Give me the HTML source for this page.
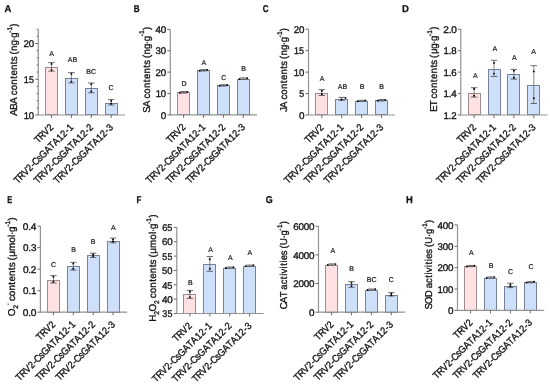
<!DOCTYPE html>
<html><head><meta charset="utf-8"><title>Figure</title>
<style>
html,body{margin:0;padding:0;background:#fff;}
svg{display:block;filter:blur(0.25px);}
text{font-family:"Liberation Sans",Arial,sans-serif;fill:#151515;stroke-linejoin:round;text-rendering:geometricPrecision;}
.pl{font-weight:bold;fill:#000;stroke:#000;stroke-width:0.25px;}
.tl{stroke:#151515;stroke-width:0.34px;}
.xl{stroke:#151515;stroke-width:0.36px;}
.yl{stroke:#151515;stroke-width:0.34px;}
.lt{font-size:7px;text-anchor:middle;fill:#1a1a1a;stroke:#1a1a1a;stroke-width:0.22px;}
.ax{stroke:#939393;stroke-width:1.2;fill:none;}
.tk{stroke:#6a6a6a;stroke-width:1;fill:none;}
.eb{stroke:#5a5a5a;stroke-width:0.9;fill:none;}
.ebv{stroke:#555;stroke-width:0.7;fill:none;}
.dot{fill:#000;}
</style></head>
<body>
<svg width="550" height="386" viewBox="0 0 550 386">
<rect width="550" height="386" fill="#fff"/>
<g class="pl"><text xml:space="preserve" transform="translate(4.78 11.9) scale(0.9544 1)" font-size="9.99" x="-0.23" y="0">A</text></g>
<rect x="45.5" y="67.5" width="12" height="47" fill="#fee2e3" stroke="#9d8b8e" stroke-width="1"/>
<rect x="65.5" y="78.5" width="12" height="36" fill="#cddff9" stroke="#78819a" stroke-width="1"/>
<rect x="85.5" y="88.5" width="12" height="26" fill="#cddff9" stroke="#78819a" stroke-width="1"/>
<rect x="105.5" y="103.5" width="12" height="11" fill="#cddff9" stroke="#78819a" stroke-width="1"/>
<path d="M51.5 62.6V71.2" class="ebv"/>
<path d="M48.3 62.6H54.7M48.3 71.2H54.7" class="eb"/>
<circle cx="51.5" cy="63.9" r="0.95" class="dot"/>
<circle cx="51.5" cy="69.9" r="0.95" class="dot"/>
<path d="M71.4 72.6V82.9" class="ebv"/>
<path d="M68.2 72.6H74.6M68.2 82.9H74.6" class="eb"/>
<circle cx="71.4" cy="73.9" r="0.95" class="dot"/>
<circle cx="71.4" cy="81.6" r="0.95" class="dot"/>
<path d="M91.3 83V92.8" class="ebv"/>
<path d="M88.1 83H94.5M88.1 92.8H94.5" class="eb"/>
<circle cx="91.3" cy="84.3" r="0.95" class="dot"/>
<circle cx="91.3" cy="91.5" r="0.95" class="dot"/>
<path d="M111.2 99.6V105" class="ebv"/>
<path d="M108 99.6H114.4M108 105H114.4" class="eb"/>
<circle cx="111.2" cy="100.9" r="0.95" class="dot"/>
<circle cx="111.2" cy="103.7" r="0.95" class="dot"/>
<path d="M38.3 29.2V115H125" class="ax"/>
<path d="M35.3 115H38.3M35.3 79.25H38.3M35.3 43.5H38.3M36.7 107.85H38.3M36.7 100.7H38.3M36.7 93.55H38.3M36.7 86.4H38.3M36.7 72.1H38.3M36.7 64.95H38.3M36.7 57.8H38.3M36.7 50.65H38.3M36.7 36.35H38.3M36.7 29.2H38.3M51.5 115V118M71.4 115V118M91.3 115V118M111.2 115V118" class="tk"/>
<g class="tl"><text xml:space="preserve" transform="translate(34.1 118.7) scale(0.9796 1)" font-size="9.7" x="-10.68 -5.39" y="0">10</text></g>
<g class="tl"><text xml:space="preserve" transform="translate(34.1 82.95) scale(0.9213 1)" font-size="9.7" x="-11.18 -5.63" y="0">15</text></g>
<g class="tl"><text xml:space="preserve" transform="translate(34.1 47.2) scale(1.0044 1)" font-size="9.7" x="-10.56 -5.32" y="0">20</text></g>
<text x="51.65" y="55.7" class="lt">A</text>
<text x="72.5" y="62.2" class="lt">AB</text>
<text x="91.1" y="74.1" class="lt">BC</text>
<text x="110.95" y="89.5" class="lt">C</text>
<g class="xl"><text xml:space="preserve" transform="translate(54.2 127.8) rotate(-45) scale(0.897 1)" font-size="9.98" x="-25.24 -19.49 -12.76 -5.78" y="0">TRV2</text></g>
<g class="xl"><text xml:space="preserve" transform="translate(74.1 127.8) rotate(-45) scale(0.9047 1)" font-size="9.98" x="-88.13 -82.43 -75.75 -68.83 -62.92 -59.89 -53.28 -48.63 -40.96 -34.38 -28.35 -21.27 -15.37 -9.46 -5.66" y="0">TRV2-CsGATA12-1</text></g>
<g class="xl"><text xml:space="preserve" transform="translate(94 127.8) rotate(-45) scale(0.9079 1)" font-size="9.98" x="-87.82 -82.15 -75.49 -68.59 -62.7 -59.68 -53.1 -48.47 -40.82 -34.26 -28.26 -21.21 -15.33 -9.44 -5.75" y="0">TRV2-CsGATA12-2</text></g>
<g class="xl"><text xml:space="preserve" transform="translate(113.9 127.8) rotate(-45) scale(0.9061 1)" font-size="9.98" x="-87.99 -82.3 -75.63 -68.72 -62.82 -59.79 -53.2 -48.56 -40.9 -34.32 -28.31 -21.24 -15.35 -9.45 -5.69" y="0">TRV2-CsGATA12-3</text></g>
<g class="yl"><text xml:space="preserve" transform="translate(17.3 115.6) rotate(-90) scale(0.9657 1)" font-size="9.98" x="-0.12 6.1 12.32 18.85 21.2 26.18 32.05 38.13 41.41 47.1 53.17 56.17 60.79 63.18 66.83 72.5 77.43 80.51" y="0">ABA contents (ng·g</text><text xml:space="preserve" transform="translate(17.3 115.6) rotate(-90) scale(0.9657 1)" font-size="6.81" x="85.73 88.11" y="-5.4">-1</text><text xml:space="preserve" transform="translate(17.3 115.6) rotate(-90) scale(0.9657 1)" font-size="9.98" x="92.02" y="0">)</text></g>
<g class="pl"><text xml:space="preserve" transform="translate(133.58 11.5) scale(0.8172 1)" font-size="9.99" x="0.09" y="0">B</text></g>
<rect x="177.5" y="92.5" width="12" height="22" fill="#fee2e3" stroke="#9d8b8e" stroke-width="1"/>
<rect x="197.5" y="70.5" width="12" height="44" fill="#cddff9" stroke="#78819a" stroke-width="1"/>
<rect x="217.5" y="85.5" width="12" height="29" fill="#cddff9" stroke="#78819a" stroke-width="1"/>
<rect x="237.5" y="79.5" width="12" height="35" fill="#cddff9" stroke="#78819a" stroke-width="1"/>
<path d="M183.6 91.5V93.1" class="ebv"/>
<path d="M180.4 91.5H186.8M180.4 93.1H186.8" class="eb"/>
<circle cx="179.8" cy="92.7" r="0.95" class="dot"/>
<circle cx="187.4" cy="91.9" r="0.95" class="dot"/>
<path d="M203.5 69.6V71" class="ebv"/>
<path d="M200.3 69.6H206.7M200.3 71H206.7" class="eb"/>
<circle cx="199.7" cy="70.7" r="0.95" class="dot"/>
<circle cx="207.3" cy="69.9" r="0.95" class="dot"/>
<path d="M223.4 84.7V86.1" class="ebv"/>
<path d="M220.2 84.7H226.6M220.2 86.1H226.6" class="eb"/>
<circle cx="219.6" cy="85.8" r="0.95" class="dot"/>
<circle cx="227.2" cy="85" r="0.95" class="dot"/>
<path d="M243.3 77.9V79.3" class="ebv"/>
<path d="M240.1 77.9H246.5M240.1 79.3H246.5" class="eb"/>
<circle cx="239.5" cy="79" r="0.95" class="dot"/>
<circle cx="247.1" cy="78.2" r="0.95" class="dot"/>
<path d="M170.3 29.4V114.9H257" class="ax"/>
<path d="M167.3 114.9H170.3M167.3 93.53H170.3M167.3 72.15H170.3M167.3 50.78H170.3M167.3 29.4H170.3M183.6 114.9V117.9M203.5 114.9V117.9M223.4 114.9V117.9M243.3 114.9V117.9" class="tk"/>
<g class="tl"><text xml:space="preserve" transform="translate(166.1 118.6) scale(1.0208 1)" font-size="9.7" x="-5.28" y="0">0</text></g>
<g class="tl"><text xml:space="preserve" transform="translate(166.1 97.23) scale(0.9796 1)" font-size="9.7" x="-10.68 -5.39" y="0">10</text></g>
<g class="tl"><text xml:space="preserve" transform="translate(166.1 75.85) scale(1.0044 1)" font-size="9.7" x="-10.56 -5.32" y="0">20</text></g>
<g class="tl"><text xml:space="preserve" transform="translate(166.1 54.48) scale(0.9882 1)" font-size="9.7" x="-10.63 -5.36" y="0">30</text></g>
<g class="tl"><text xml:space="preserve" transform="translate(166.1 33.1) scale(1.0136 1)" font-size="9.7" x="-10.46 -5.3" y="0">40</text></g>
<text x="184.1" y="86.2" class="lt">D</text>
<text x="203.85" y="64.9" class="lt">A</text>
<text x="223.85" y="80" class="lt">C</text>
<text x="243.6" y="71.4" class="lt">B</text>
<g class="xl"><text xml:space="preserve" transform="translate(186.3 127.7) rotate(-45) scale(0.897 1)" font-size="9.98" x="-25.24 -19.49 -12.76 -5.78" y="0">TRV2</text></g>
<g class="xl"><text xml:space="preserve" transform="translate(206.2 127.7) rotate(-45) scale(0.9047 1)" font-size="9.98" x="-88.13 -82.43 -75.75 -68.83 -62.92 -59.89 -53.28 -48.63 -40.96 -34.38 -28.35 -21.27 -15.37 -9.46 -5.66" y="0">TRV2-CsGATA12-1</text></g>
<g class="xl"><text xml:space="preserve" transform="translate(226.1 127.7) rotate(-45) scale(0.9079 1)" font-size="9.98" x="-87.82 -82.15 -75.49 -68.59 -62.7 -59.68 -53.1 -48.47 -40.82 -34.26 -28.26 -21.21 -15.33 -9.44 -5.75" y="0">TRV2-CsGATA12-2</text></g>
<g class="xl"><text xml:space="preserve" transform="translate(246 127.7) rotate(-45) scale(0.9061 1)" font-size="9.98" x="-87.99 -82.3 -75.63 -68.72 -62.82 -59.79 -53.2 -48.56 -40.9 -34.32 -28.31 -21.24 -15.35 -9.45 -5.69" y="0">TRV2-CsGATA12-3</text></g>
<g class="yl"><text xml:space="preserve" transform="translate(149.8 111.9) rotate(-90) scale(0.9584 1)" font-size="9.98" x="-0.81 5.03 11.59 13.98 19 24.91 31.03 34.34 40.07 46.19 49.22 53.85 56.27 59.95 65.67 70.63 73.74" y="0">SA contents (ng·g</text><text xml:space="preserve" transform="translate(149.8 111.9) rotate(-90) scale(0.9584 1)" font-size="6.81" x="78.99 81.39" y="-5.4">-1</text><text xml:space="preserve" transform="translate(149.8 111.9) rotate(-90) scale(0.9584 1)" font-size="9.98" x="85.33" y="0">)</text></g>
<g class="pl"><text xml:space="preserve" transform="translate(262.78 11.9) scale(0.809 1)" font-size="9.99" x="-0.14" y="0">C</text></g>
<rect x="315.5" y="93.5" width="12" height="21" fill="#fee2e3" stroke="#9d8b8e" stroke-width="1"/>
<rect x="335.5" y="99.5" width="12" height="15" fill="#cddff9" stroke="#78819a" stroke-width="1"/>
<rect x="355.5" y="101.5" width="12" height="13" fill="#cddff9" stroke="#78819a" stroke-width="1"/>
<rect x="375.5" y="100.5" width="12" height="14" fill="#cddff9" stroke="#78819a" stroke-width="1"/>
<path d="M321.8 89.6V95.5" class="ebv"/>
<path d="M318.6 89.6H325M318.6 95.5H325" class="eb"/>
<circle cx="321.8" cy="90.9" r="0.95" class="dot"/>
<circle cx="321.8" cy="94.2" r="0.95" class="dot"/>
<path d="M341.7 97.4V100.3" class="ebv"/>
<path d="M338.5 97.4H344.9M338.5 100.3H344.9" class="eb"/>
<circle cx="341.5" cy="99.5" r="0.95" class="dot"/>
<circle cx="345.5" cy="97.9" r="0.95" class="dot"/>
<path d="M361.6 100.3V101.3" class="ebv"/>
<path d="M358.4 100.3H364.8M358.4 101.3H364.8" class="eb"/>
<circle cx="357.8" cy="101.2" r="0.95" class="dot"/>
<circle cx="365.4" cy="100.4" r="0.95" class="dot"/>
<path d="M381.5 99.5V101" class="ebv"/>
<path d="M378.3 99.5H384.7M378.3 101H384.7" class="eb"/>
<circle cx="377.7" cy="100.7" r="0.95" class="dot"/>
<circle cx="385.3" cy="99.9" r="0.95" class="dot"/>
<path d="M308.5 29.2V115H395.2" class="ax"/>
<path d="M305.5 115H308.5M305.5 93.55H308.5M305.5 72.1H308.5M305.5 50.65H308.5M305.5 29.2H308.5M321.8 115V118M341.7 115V118M361.6 115V118M381.5 115V118" class="tk"/>
<g class="tl"><text xml:space="preserve" transform="translate(304.3 118.7) scale(1.0208 1)" font-size="9.7" x="-5.28" y="0">0</text></g>
<g class="tl"><text xml:space="preserve" transform="translate(304.3 97.25) scale(0.91 1)" font-size="9.7" x="-5.66" y="0">5</text></g>
<g class="tl"><text xml:space="preserve" transform="translate(304.3 75.8) scale(0.9796 1)" font-size="9.7" x="-10.68 -5.39" y="0">10</text></g>
<g class="tl"><text xml:space="preserve" transform="translate(304.3 54.35) scale(0.9213 1)" font-size="9.7" x="-11.18 -5.63" y="0">15</text></g>
<g class="tl"><text xml:space="preserve" transform="translate(304.3 32.9) scale(1.0044 1)" font-size="9.7" x="-10.56 -5.32" y="0">20</text></g>
<text x="322.15" y="80.9" class="lt">A</text>
<text x="342.5" y="88.6" class="lt">AB</text>
<text x="362" y="88.8" class="lt">B</text>
<text x="381.7" y="88.8" class="lt">B</text>
<g class="xl"><text xml:space="preserve" transform="translate(324.5 127.8) rotate(-45) scale(0.897 1)" font-size="9.98" x="-25.24 -19.49 -12.76 -5.78" y="0">TRV2</text></g>
<g class="xl"><text xml:space="preserve" transform="translate(344.4 127.8) rotate(-45) scale(0.9047 1)" font-size="9.98" x="-88.13 -82.43 -75.75 -68.83 -62.92 -59.89 -53.28 -48.63 -40.96 -34.38 -28.35 -21.27 -15.37 -9.46 -5.66" y="0">TRV2-CsGATA12-1</text></g>
<g class="xl"><text xml:space="preserve" transform="translate(364.3 127.8) rotate(-45) scale(0.9079 1)" font-size="9.98" x="-87.82 -82.15 -75.49 -68.59 -62.7 -59.68 -53.1 -48.47 -40.82 -34.26 -28.26 -21.21 -15.33 -9.44 -5.75" y="0">TRV2-CsGATA12-2</text></g>
<g class="xl"><text xml:space="preserve" transform="translate(384.2 127.8) rotate(-45) scale(0.9061 1)" font-size="9.98" x="-87.99 -82.3 -75.63 -68.72 -62.82 -59.79 -53.2 -48.56 -40.9 -34.32 -28.31 -21.24 -15.35 -9.45 -5.69" y="0">TRV2-CsGATA12-3</text></g>
<g class="yl"><text xml:space="preserve" transform="translate(287.4 111.4) rotate(-90) scale(0.9579 1)" font-size="9.98" x="-0.64 3.47 10.03 12.42 17.44 23.36 29.47 32.79 38.53 44.64 47.68 52.31 54.73 58.42 64.14 69.1 72.21" y="0">JA contents (ng·g</text><text xml:space="preserve" transform="translate(287.4 111.4) rotate(-90) scale(0.9579 1)" font-size="6.81" x="77.46 79.87" y="-5.4">-1</text><text xml:space="preserve" transform="translate(287.4 111.4) rotate(-90) scale(0.9579 1)" font-size="9.98" x="83.81" y="0">)</text></g>
<g class="pl"><text xml:space="preserve" transform="translate(402 11.7) scale(0.9529 1)" font-size="9.99" x="-0.04" y="0">D</text></g>
<rect x="468.5" y="93.5" width="12" height="21" fill="#fee2e3" stroke="#9d8b8e" stroke-width="1"/>
<rect x="488.5" y="69.5" width="12" height="45" fill="#cddff9" stroke="#78819a" stroke-width="1"/>
<rect x="507.5" y="74.5" width="12" height="40" fill="#cddff9" stroke="#78819a" stroke-width="1"/>
<rect x="527.5" y="85.5" width="12" height="29" fill="#cddff9" stroke="#78819a" stroke-width="1"/>
<path d="M474.1 87.7V97.1" class="ebv"/>
<path d="M470.9 87.7H477.3M470.9 97.1H477.3" class="eb"/>
<circle cx="474.1" cy="89" r="0.95" class="dot"/>
<circle cx="474.1" cy="95.8" r="0.95" class="dot"/>
<path d="M494 60.3V76.4" class="ebv"/>
<path d="M490.8 60.3H497.2M490.8 76.4H497.2" class="eb"/>
<circle cx="494" cy="62.9" r="0.95" class="dot"/>
<circle cx="494" cy="73.6" r="0.95" class="dot"/>
<path d="M513.9 69.4V79.1" class="ebv"/>
<path d="M510.7 69.4H517.1M510.7 79.1H517.1" class="eb"/>
<circle cx="513.9" cy="70.7" r="0.95" class="dot"/>
<circle cx="513.9" cy="77.8" r="0.95" class="dot"/>
<path d="M533.8 65.7V103.5" class="ebv"/>
<path d="M530.6 65.7H537M530.6 103.5H537" class="eb"/>
<circle cx="533.8" cy="71.4" r="0.95" class="dot"/>
<circle cx="533.8" cy="98.2" r="0.95" class="dot"/>
<path d="M460.8 29.3V115H547.5" class="ax"/>
<path d="M457.8 115H460.8M457.8 93.58H460.8M457.8 72.15H460.8M457.8 50.72H460.8M457.8 29.3H460.8M474.1 115V118M494 115V118M513.9 115V118M533.8 115V118" class="tk"/>
<g class="tl"><text xml:space="preserve" transform="translate(456.6 118.7) scale(0.9998 1)" font-size="9.7" x="-13.15 -7.94 -5.32" y="0">1.2</text></g>
<g class="tl"><text xml:space="preserve" transform="translate(456.6 97.28) scale(1.0088 1)" font-size="9.7" x="-13.06 -7.88 -5.28" y="0">1.4</text></g>
<g class="tl"><text xml:space="preserve" transform="translate(456.6 75.85) scale(1.0023 1)" font-size="9.7" x="-13.12 -7.92 -5.31" y="0">1.6</text></g>
<g class="tl"><text xml:space="preserve" transform="translate(456.6 54.42) scale(0.9939 1)" font-size="9.7" x="-13.21 -7.98 -5.35" y="0">1.8</text></g>
<g class="tl"><text xml:space="preserve" transform="translate(456.6 33) scale(1.0372 1)" font-size="9.7" x="-12.84 -7.7 -5.24" y="0">2.0</text></g>
<text x="475.45" y="78.4" class="lt">A</text>
<text x="494.95" y="50.8" class="lt">A</text>
<text x="514.35" y="59.8" class="lt">A</text>
<text x="533.55" y="54.4" class="lt">A</text>
<g class="xl"><text xml:space="preserve" transform="translate(476.8 127.8) rotate(-45) scale(0.897 1)" font-size="9.98" x="-25.24 -19.49 -12.76 -5.78" y="0">TRV2</text></g>
<g class="xl"><text xml:space="preserve" transform="translate(496.7 127.8) rotate(-45) scale(0.9047 1)" font-size="9.98" x="-88.13 -82.43 -75.75 -68.83 -62.92 -59.89 -53.28 -48.63 -40.96 -34.38 -28.35 -21.27 -15.37 -9.46 -5.66" y="0">TRV2-CsGATA12-1</text></g>
<g class="xl"><text xml:space="preserve" transform="translate(516.6 127.8) rotate(-45) scale(0.9079 1)" font-size="9.98" x="-87.82 -82.15 -75.49 -68.59 -62.7 -59.68 -53.1 -48.47 -40.82 -34.26 -28.26 -21.21 -15.33 -9.44 -5.75" y="0">TRV2-CsGATA12-2</text></g>
<g class="xl"><text xml:space="preserve" transform="translate(536.5 127.8) rotate(-45) scale(0.9061 1)" font-size="9.98" x="-87.99 -82.3 -75.63 -68.72 -62.82 -59.79 -53.2 -48.56 -40.9 -34.32 -28.31 -21.24 -15.35 -9.45 -5.69" y="0">TRV2-CsGATA12-3</text></g>
<g class="yl"><text xml:space="preserve" transform="translate(437.2 111.2) rotate(-90) scale(0.9681 1)" font-size="9.98" x="-0.67 5.04 10.78 13.12 18.09 23.95 30.01 33.28 38.95 45.02 48.01 52.62 55 59 64.56 69.49 72.56" y="0">ET contents (μg·g</text><text xml:space="preserve" transform="translate(437.2 111.2) rotate(-90) scale(0.9681 1)" font-size="6.81" x="77.77 80.13" y="-5.4">-1</text><text xml:space="preserve" transform="translate(437.2 111.2) rotate(-90) scale(0.9681 1)" font-size="9.98" x="84.04" y="0">)</text></g>
<g class="pl"><text xml:space="preserve" transform="translate(7.19 203) scale(0.7489 1)" font-size="9.99" x="0.15" y="0">E</text></g>
<rect x="47.5" y="280.5" width="12" height="32" fill="#fee2e3" stroke="#9d8b8e" stroke-width="1"/>
<rect x="67.5" y="266.5" width="12" height="46" fill="#cddff9" stroke="#78819a" stroke-width="1"/>
<rect x="87.5" y="255.5" width="12" height="57" fill="#cddff9" stroke="#78819a" stroke-width="1"/>
<rect x="107.5" y="241.5" width="12" height="71" fill="#cddff9" stroke="#78819a" stroke-width="1"/>
<path d="M53.4 275.6V283" class="ebv"/>
<path d="M50.2 275.6H56.6M50.2 283H56.6" class="eb"/>
<circle cx="53.4" cy="276.9" r="0.95" class="dot"/>
<circle cx="53.4" cy="281.7" r="0.95" class="dot"/>
<path d="M73.3 262.3V270.1" class="ebv"/>
<path d="M70.1 262.3H76.5M70.1 270.1H76.5" class="eb"/>
<circle cx="73.3" cy="263.6" r="0.95" class="dot"/>
<circle cx="73.3" cy="268.8" r="0.95" class="dot"/>
<path d="M93.2 253.2V257.5" class="ebv"/>
<path d="M90 253.2H96.4M90 257.5H96.4" class="eb"/>
<circle cx="93.2" cy="254.5" r="0.95" class="dot"/>
<circle cx="93.2" cy="256.2" r="0.95" class="dot"/>
<path d="M113.1 238.1V242.8" class="ebv"/>
<path d="M109.9 238.1H116.3M109.9 242.8H116.3" class="eb"/>
<circle cx="113.1" cy="239.4" r="0.95" class="dot"/>
<circle cx="113.1" cy="241.5" r="0.95" class="dot"/>
<path d="M40.4 226.1V312.2H127.1" class="ax"/>
<path d="M37.4 312.2H40.4M37.4 290.68H40.4M37.4 269.15H40.4M37.4 247.62H40.4M37.4 226.1H40.4M53.4 312.2V315.2M73.3 312.2V315.2M93.2 312.2V315.2M113.1 312.2V315.2" class="tk"/>
<g class="tl"><text xml:space="preserve" transform="translate(36.2 315.9) scale(1.0514 1)" font-size="9.7" x="-12.71 -7.61 -5.2" y="0">0.0</text></g>
<g class="tl"><text xml:space="preserve" transform="translate(36.2 294.38) scale(1.0155 1)" font-size="9.7" x="-13.07 -7.84 -5.21" y="0">0.1</text></g>
<g class="tl"><text xml:space="preserve" transform="translate(36.2 272.85) scale(1.0372 1)" font-size="9.7" x="-12.85 -7.7 -5.23" y="0">0.2</text></g>
<g class="tl"><text xml:space="preserve" transform="translate(36.2 251.32) scale(1.0218 1)" font-size="9.7" x="-13 -7.8 -5.21" y="0">0.3</text></g>
<g class="tl"><text xml:space="preserve" transform="translate(36.2 229.8) scale(1.0441 1)" font-size="9.7" x="-12.78 -7.66 -5.19" y="0">0.4</text></g>
<text x="53.65" y="267.3" class="lt">C</text>
<text x="73.55" y="252.2" class="lt">B</text>
<text x="93" y="244" class="lt">B</text>
<text x="113.45" y="229.8" class="lt">A</text>
<g class="xl"><text xml:space="preserve" transform="translate(56.1 325) rotate(-45) scale(0.897 1)" font-size="9.98" x="-25.24 -19.49 -12.76 -5.78" y="0">TRV2</text></g>
<g class="xl"><text xml:space="preserve" transform="translate(76 325) rotate(-45) scale(0.9047 1)" font-size="9.98" x="-88.13 -82.43 -75.75 -68.83 -62.92 -59.89 -53.28 -48.63 -40.96 -34.38 -28.35 -21.27 -15.37 -9.46 -5.66" y="0">TRV2-CsGATA12-1</text></g>
<g class="xl"><text xml:space="preserve" transform="translate(95.9 325) rotate(-45) scale(0.9079 1)" font-size="9.98" x="-87.82 -82.15 -75.49 -68.59 -62.7 -59.68 -53.1 -48.47 -40.82 -34.26 -28.26 -21.21 -15.33 -9.44 -5.75" y="0">TRV2-CsGATA12-2</text></g>
<g class="xl"><text xml:space="preserve" transform="translate(115.8 325) rotate(-45) scale(0.9061 1)" font-size="9.98" x="-87.99 -82.3 -75.63 -68.72 -62.82 -59.79 -53.2 -48.56 -40.9 -34.32 -28.31 -21.24 -15.35 -9.45 -5.69" y="0">TRV2-CsGATA12-3</text></g>
<g class="yl"><text xml:space="preserve" transform="translate(15.4 315.9) rotate(-90) scale(1.001 1)" font-size="9.98" x="-0.34" y="0">O</text><text xml:space="preserve" transform="translate(15.4 315.9) rotate(-90) scale(1.001 1)" font-size="6.81" x="7.04" y="2.3">2</text><text xml:space="preserve" transform="translate(15.4 315.9) rotate(-90) scale(1.001 1)" font-size="6.81" x="10.56" y="-5.4">·</text><text xml:space="preserve" transform="translate(15.4 315.9) rotate(-90) scale(1.001 1)" font-size="9.98" x="12.61 14.79 19.59 25.25 31.16 34.28 39.77 45.68 48.54 53.08 55.31 59.15 64.77 73.2 78.91 80.93 83.87" y="0"> contents (μmol·g</text><text xml:space="preserve" transform="translate(15.4 315.9) rotate(-90) scale(1.001 1)" font-size="6.81" x="88.96 91.22" y="-5.4">-1</text><text xml:space="preserve" transform="translate(15.4 315.9) rotate(-90) scale(1.001 1)" font-size="9.98" x="95.02" y="0">)</text></g>
<g class="pl"><text xml:space="preserve" transform="translate(136.44 202.6) scale(0.7975 1)" font-size="9.99" x="0.04" y="0">F</text></g>
<rect x="183.5" y="294.5" width="12" height="19" fill="#fee2e3" stroke="#9d8b8e" stroke-width="1"/>
<rect x="203.5" y="264.5" width="12" height="49" fill="#cddff9" stroke="#78819a" stroke-width="1"/>
<rect x="223.5" y="268.5" width="12" height="45" fill="#cddff9" stroke="#78819a" stroke-width="1"/>
<rect x="243.5" y="266.5" width="12" height="47" fill="#cddff9" stroke="#78819a" stroke-width="1"/>
<path d="M189.9 290.4V298.4" class="ebv"/>
<path d="M186.7 290.4H193.1M186.7 298.4H193.1" class="eb"/>
<circle cx="189.9" cy="291.7" r="0.95" class="dot"/>
<circle cx="189.9" cy="297.1" r="0.95" class="dot"/>
<path d="M209.8 256.6V271.3" class="ebv"/>
<path d="M206.6 256.6H213M206.6 271.3H213" class="eb"/>
<circle cx="209.8" cy="259.2" r="0.95" class="dot"/>
<circle cx="209.8" cy="268.8" r="0.95" class="dot"/>
<path d="M229.7 267V268.2" class="ebv"/>
<path d="M226.5 267H232.9M226.5 268.2H232.9" class="eb"/>
<circle cx="225.9" cy="268" r="0.95" class="dot"/>
<circle cx="233.5" cy="267.2" r="0.95" class="dot"/>
<path d="M249.6 265.1V266.3" class="ebv"/>
<path d="M246.4 265.1H252.8M246.4 266.3H252.8" class="eb"/>
<circle cx="245.8" cy="266.1" r="0.95" class="dot"/>
<circle cx="253.4" cy="265.3" r="0.95" class="dot"/>
<path d="M176.8 227.4V313.5H263.5" class="ax"/>
<path d="M173.8 313.5H176.8M173.8 299.15H176.8M173.8 284.8H176.8M173.8 270.45H176.8M173.8 256.1H176.8M173.8 241.75H176.8M173.8 227.4H176.8M189.9 313.5V316.5M209.8 313.5V316.5M229.7 313.5V316.5M249.6 313.5V316.5" class="tk"/>
<g class="tl"><text xml:space="preserve" transform="translate(172.6 317.2) scale(0.9326 1)" font-size="9.7" x="-11.1 -5.59" y="0">35</text></g>
<g class="tl"><text xml:space="preserve" transform="translate(172.6 302.85) scale(1.0136 1)" font-size="9.7" x="-10.46 -5.3" y="0">40</text></g>
<g class="tl"><text xml:space="preserve" transform="translate(172.6 288.5) scale(0.9599 1)" font-size="9.7" x="-10.9 -5.51" y="0">45</text></g>
<g class="tl"><text xml:space="preserve" transform="translate(172.6 274.15) scale(0.9656 1)" font-size="9.7" x="-10.95 -5.43" y="0">50</text></g>
<g class="tl"><text xml:space="preserve" transform="translate(172.6 259.8) scale(0.91 1)" font-size="9.7" x="-11.45 -5.66" y="0">55</text></g>
<g class="tl"><text xml:space="preserve" transform="translate(172.6 245.45) scale(1.0071 1)" font-size="9.7" x="-10.53 -5.31" y="0">60</text></g>
<g class="tl"><text xml:space="preserve" transform="translate(172.6 231.1) scale(0.9509 1)" font-size="9.7" x="-10.99 -5.53" y="0">65</text></g>
<text x="190.25" y="284.6" class="lt">B</text>
<text x="210.55" y="251.8" class="lt">A</text>
<text x="230.35" y="259.7" class="lt">A</text>
<text x="249.95" y="255" class="lt">A</text>
<g class="xl"><text xml:space="preserve" transform="translate(192.6 326.3) rotate(-45) scale(0.897 1)" font-size="9.98" x="-25.24 -19.49 -12.76 -5.78" y="0">TRV2</text></g>
<g class="xl"><text xml:space="preserve" transform="translate(212.5 326.3) rotate(-45) scale(0.9047 1)" font-size="9.98" x="-88.13 -82.43 -75.75 -68.83 -62.92 -59.89 -53.28 -48.63 -40.96 -34.38 -28.35 -21.27 -15.37 -9.46 -5.66" y="0">TRV2-CsGATA12-1</text></g>
<g class="xl"><text xml:space="preserve" transform="translate(232.4 326.3) rotate(-45) scale(0.9079 1)" font-size="9.98" x="-87.82 -82.15 -75.49 -68.59 -62.7 -59.68 -53.1 -48.47 -40.82 -34.26 -28.26 -21.21 -15.33 -9.44 -5.75" y="0">TRV2-CsGATA12-2</text></g>
<g class="xl"><text xml:space="preserve" transform="translate(252.3 326.3) rotate(-45) scale(0.9061 1)" font-size="9.98" x="-87.99 -82.3 -75.63 -68.72 -62.82 -59.79 -53.2 -48.56 -40.9 -34.32 -28.31 -21.24 -15.35 -9.45 -5.69" y="0">TRV2-CsGATA12-3</text></g>
<g class="yl"><text xml:space="preserve" transform="translate(156.4 321.5) rotate(-90) scale(0.9912 1)" font-size="9.98" x="-0.24" y="0">H</text><text xml:space="preserve" transform="translate(156.4 321.5) rotate(-90) scale(0.9912 1)" font-size="6.81" x="6.71" y="2.3">2</text><text xml:space="preserve" transform="translate(156.4 321.5) rotate(-90) scale(0.9912 1)" font-size="9.98" x="10.15" y="0">O</text><text xml:space="preserve" transform="translate(156.4 321.5) rotate(-90) scale(0.9912 1)" font-size="6.81" x="17.59" y="2.3">2</text><text xml:space="preserve" transform="translate(156.4 321.5) rotate(-90) scale(0.9912 1)" font-size="9.98" x="21.34 23.56 28.41 34.13 40.09 43.25 48.79 54.74 57.64 62.2 64.48 68.36 74.05 82.55 88.3 90.35 93.32" y="0"> contents (μmol·g</text><text xml:space="preserve" transform="translate(156.4 321.5) rotate(-90) scale(0.9912 1)" font-size="6.81" x="98.45 100.74" y="-5.4">-1</text><text xml:space="preserve" transform="translate(156.4 321.5) rotate(-90) scale(0.9912 1)" font-size="9.98" x="104.57" y="0">)</text></g>
<g class="pl"><text xml:space="preserve" transform="translate(265.92 203.2) scale(0.8936 1)" font-size="9.99" x="-0.1" y="0">G</text></g>
<rect x="325.5" y="265.5" width="12" height="47" fill="#fee2e3" stroke="#9d8b8e" stroke-width="1"/>
<rect x="345.5" y="284.5" width="12" height="28" fill="#cddff9" stroke="#78819a" stroke-width="1"/>
<rect x="365.5" y="290.5" width="12" height="22" fill="#cddff9" stroke="#78819a" stroke-width="1"/>
<rect x="385.5" y="295.5" width="12" height="17" fill="#cddff9" stroke="#78819a" stroke-width="1"/>
<path d="M331.6 263.9V265.1" class="ebv"/>
<path d="M328.4 263.9H334.8M328.4 265.1H334.8" class="eb"/>
<circle cx="327.8" cy="264.9" r="0.95" class="dot"/>
<circle cx="335.4" cy="264.1" r="0.95" class="dot"/>
<path d="M351.5 281.6V287.3" class="ebv"/>
<path d="M348.3 281.6H354.7M348.3 287.3H354.7" class="eb"/>
<circle cx="351.5" cy="282.9" r="0.95" class="dot"/>
<circle cx="351.5" cy="286" r="0.95" class="dot"/>
<path d="M371.4 289V290.2" class="ebv"/>
<path d="M368.2 289H374.6M368.2 290.2H374.6" class="eb"/>
<circle cx="367.6" cy="290" r="0.95" class="dot"/>
<circle cx="375.2" cy="289.2" r="0.95" class="dot"/>
<path d="M391.3 292.6V296" class="ebv"/>
<path d="M388.1 292.6H394.5M388.1 296H394.5" class="eb"/>
<circle cx="391.3" cy="293.6" r="0.95" class="dot"/>
<circle cx="391.3" cy="295.2" r="0.95" class="dot"/>
<path d="M318.5 226.2V312.2H405.2" class="ax"/>
<path d="M315.5 312.2H318.5M315.5 283.53H318.5M315.5 254.87H318.5M315.5 226.2H318.5M331.6 312.2V315.2M351.5 312.2V315.2M371.4 312.2V315.2M391.3 312.2V315.2" class="tk"/>
<g class="tl"><text xml:space="preserve" transform="translate(314.3 315.9) scale(1.0208 1)" font-size="9.7" x="-5.28" y="0">0</text></g>
<g class="tl"><text xml:space="preserve" transform="translate(314.3 287.23) scale(1.0127 1)" font-size="9.7" x="-20.9 -15.71 -10.5 -5.3" y="0">2000</text></g>
<g class="tl"><text xml:space="preserve" transform="translate(314.3 258.57) scale(1.0172 1)" font-size="9.7" x="-20.8 -15.65 -10.47 -5.29" y="0">4000</text></g>
<g class="tl"><text xml:space="preserve" transform="translate(314.3 229.9) scale(1.014 1)" font-size="9.7" x="-20.87 -15.69 -10.49 -5.3" y="0">6000</text></g>
<text x="332.9" y="252.6" class="lt">A</text>
<text x="351.55" y="271.4" class="lt">B</text>
<text x="371.65" y="281.6" class="lt">BC</text>
<text x="391.35" y="282.4" class="lt">C</text>
<g class="xl"><text xml:space="preserve" transform="translate(334.3 325) rotate(-45) scale(0.897 1)" font-size="9.98" x="-25.24 -19.49 -12.76 -5.78" y="0">TRV2</text></g>
<g class="xl"><text xml:space="preserve" transform="translate(354.2 325) rotate(-45) scale(0.9047 1)" font-size="9.98" x="-88.13 -82.43 -75.75 -68.83 -62.92 -59.89 -53.28 -48.63 -40.96 -34.38 -28.35 -21.27 -15.37 -9.46 -5.66" y="0">TRV2-CsGATA12-1</text></g>
<g class="xl"><text xml:space="preserve" transform="translate(374.1 325) rotate(-45) scale(0.9079 1)" font-size="9.98" x="-87.82 -82.15 -75.49 -68.59 -62.7 -59.68 -53.1 -48.47 -40.82 -34.26 -28.26 -21.21 -15.33 -9.44 -5.75" y="0">TRV2-CsGATA12-2</text></g>
<g class="xl"><text xml:space="preserve" transform="translate(394 325) rotate(-45) scale(0.9061 1)" font-size="9.98" x="-87.99 -82.3 -75.63 -68.72 -62.82 -59.79 -53.2 -48.56 -40.9 -34.32 -28.31 -21.24 -15.35 -9.45 -5.69" y="0">TRV2-CsGATA12-3</text></g>
<g class="yl"><text xml:space="preserve" transform="translate(287 308.8) rotate(-90) scale(0.9467 1)" font-size="9.98" x="-0.58 5.97 12.27 18.07 20.23 25.94 31.28 34.79 37.26 42.49 45.36 48.87 51.33 56.66 61.32 63.8 67.33 74.32 77.48" y="0">CAT activities (U·g</text><text xml:space="preserve" transform="translate(287 308.8) rotate(-90) scale(0.9467 1)" font-size="6.81" x="82.78 85.22" y="-5.4">-1</text><text xml:space="preserve" transform="translate(287 308.8) rotate(-90) scale(0.9467 1)" font-size="9.98" x="89.2" y="0">)</text></g>
<g class="pl"><text xml:space="preserve" transform="translate(406.12 202.5) scale(0.9394 1)" font-size="9.99" x="-0.05" y="0">H</text></g>
<rect x="464.5" y="266.5" width="12" height="44" fill="#fee2e3" stroke="#9d8b8e" stroke-width="1"/>
<rect x="484.5" y="278.5" width="12" height="32" fill="#cddff9" stroke="#78819a" stroke-width="1"/>
<rect x="504.5" y="286.5" width="12" height="24" fill="#cddff9" stroke="#78819a" stroke-width="1"/>
<rect x="524.5" y="282.5" width="12" height="28" fill="#cddff9" stroke="#78819a" stroke-width="1"/>
<path d="M470.6 265.5V266.7" class="ebv"/>
<path d="M467.4 265.5H473.8M467.4 266.7H473.8" class="eb"/>
<circle cx="466.8" cy="266.5" r="0.95" class="dot"/>
<circle cx="474.4" cy="265.7" r="0.95" class="dot"/>
<path d="M490.5 276.9V278.1" class="ebv"/>
<path d="M487.3 276.9H493.7M487.3 278.1H493.7" class="eb"/>
<circle cx="486.7" cy="277.9" r="0.95" class="dot"/>
<circle cx="494.3" cy="277.1" r="0.95" class="dot"/>
<path d="M510.4 283.2V287.6" class="ebv"/>
<path d="M507.2 283.2H513.6M507.2 287.6H513.6" class="eb"/>
<circle cx="510.4" cy="284.6" r="0.95" class="dot"/>
<circle cx="510.4" cy="286.3" r="0.95" class="dot"/>
<path d="M530.3 281.6V282.8" class="ebv"/>
<path d="M527.1 281.6H533.5M527.1 282.8H533.5" class="eb"/>
<circle cx="526.5" cy="282.6" r="0.95" class="dot"/>
<circle cx="534.1" cy="281.8" r="0.95" class="dot"/>
<path d="M457.5 224.9V310.4H544.2" class="ax"/>
<path d="M454.5 310.4H457.5M454.5 289.02H457.5M454.5 267.65H457.5M454.5 246.28H457.5M454.5 224.9H457.5M470.6 310.4V313.4M490.5 310.4V313.4M510.4 310.4V313.4M530.3 310.4V313.4" class="tk"/>
<g class="tl"><text xml:space="preserve" transform="translate(453.3 314.1) scale(1.0208 1)" font-size="9.7" x="-5.28" y="0">0</text></g>
<g class="tl"><text xml:space="preserve" transform="translate(453.3 292.72) scale(0.9938 1)" font-size="9.7" x="-15.87 -10.65 -5.35" y="0">100</text></g>
<g class="tl"><text xml:space="preserve" transform="translate(453.3 271.35) scale(1.01 1)" font-size="9.7" x="-15.73 -10.53 -5.31" y="0">200</text></g>
<g class="tl"><text xml:space="preserve" transform="translate(453.3 249.97) scale(0.9991 1)" font-size="9.7" x="-15.82 -10.61 -5.33" y="0">300</text></g>
<g class="tl"><text xml:space="preserve" transform="translate(453.3 228.6) scale(1.016 1)" font-size="9.7" x="-15.63 -10.48 -5.29" y="0">400</text></g>
<text x="471.25" y="254.8" class="lt">A</text>
<text x="491" y="267.8" class="lt">B</text>
<text x="510.55" y="273.5" class="lt">C</text>
<text x="530.95" y="268.5" class="lt">C</text>
<g class="xl"><text xml:space="preserve" transform="translate(473.3 323.2) rotate(-45) scale(0.897 1)" font-size="9.98" x="-25.24 -19.49 -12.76 -5.78" y="0">TRV2</text></g>
<g class="xl"><text xml:space="preserve" transform="translate(493.2 323.2) rotate(-45) scale(0.9047 1)" font-size="9.98" x="-88.13 -82.43 -75.75 -68.83 -62.92 -59.89 -53.28 -48.63 -40.96 -34.38 -28.35 -21.27 -15.37 -9.46 -5.66" y="0">TRV2-CsGATA12-1</text></g>
<g class="xl"><text xml:space="preserve" transform="translate(513.1 323.2) rotate(-45) scale(0.9079 1)" font-size="9.98" x="-87.82 -82.15 -75.49 -68.59 -62.7 -59.68 -53.1 -48.47 -40.82 -34.26 -28.26 -21.21 -15.33 -9.44 -5.75" y="0">TRV2-CsGATA12-2</text></g>
<g class="xl"><text xml:space="preserve" transform="translate(533 323.2) rotate(-45) scale(0.9061 1)" font-size="9.98" x="-87.99 -82.3 -75.63 -68.72 -62.82 -59.79 -53.2 -48.56 -40.9 -34.32 -28.31 -21.24 -15.35 -9.45 -5.69" y="0">TRV2-CsGATA12-3</text></g>
<g class="yl"><text xml:space="preserve" transform="translate(432 308.9) rotate(-90) scale(0.9463 1)" font-size="9.98" x="-0.77 5.06 12.58 19.64 21.8 27.51 32.86 36.36 38.83 44.06 46.94 50.45 52.91 58.25 62.91 65.38 68.92 75.91 79.08" y="0">SOD activities (U·g</text><text xml:space="preserve" transform="translate(432 308.9) rotate(-90) scale(0.9463 1)" font-size="6.81" x="84.37 86.81" y="-5.4">-1</text><text xml:space="preserve" transform="translate(432 308.9) rotate(-90) scale(0.9463 1)" font-size="9.98" x="90.8" y="0">)</text></g>
</svg>
</body></html>
